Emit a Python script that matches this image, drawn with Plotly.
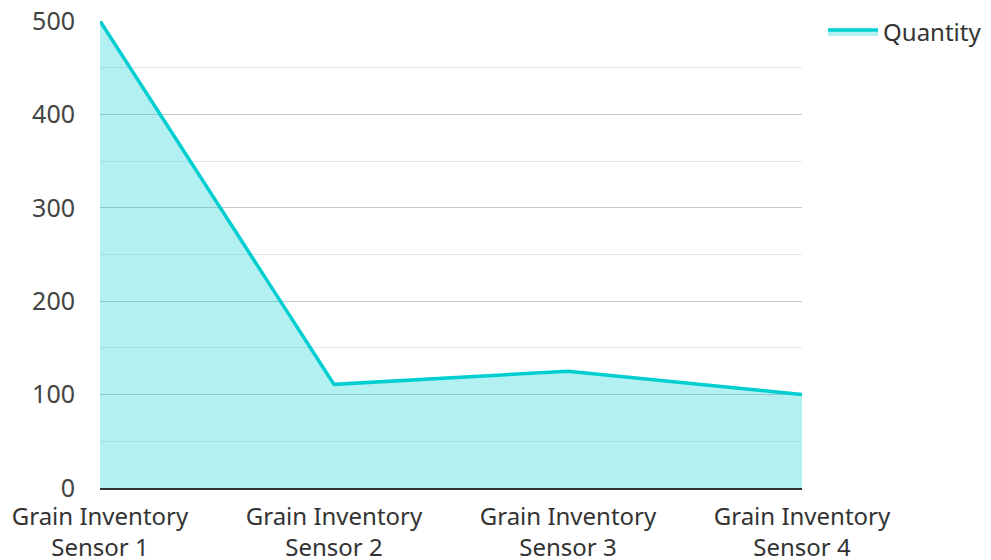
import plotly.graph_objects as go

categories = ["Grain Inventory<br>Sensor 1", "Grain Inventory<br>Sensor 2",
              "Grain Inventory<br>Sensor 3", "Grain Inventory<br>Sensor 4"]
quantity = [500, 111, 125, 100]
y_ticks = [0, 100, 200, 300, 400, 500]

fig = go.Figure()
fig.add_trace(go.Scatter(
    x=categories, y=quantity, name="Quantity", mode="lines",
    line=dict(color="#00CED1", width=3.5),
    fill="tozeroy", fillcolor="rgba(0,206,209,0.3)",
))

# page body has an 8px default margin; figure is sized to fit the 991x560 window
fig.update_layout(
    width=983, height=552,
    margin=dict(l=92, r=189, t=13, b=72, autoexpand=False),
    paper_bgcolor="white", plot_bgcolor="white",
    font=dict(family="Noto Sans", size=24, color="#444444"),
    showlegend=True,
    legend=dict(x=1.03, y=1.024, xanchor="left", yanchor="top", itemwidth=50,
                font=dict(size=24, color="#333333"), bgcolor="rgba(0,0,0,0)"),
    xaxis=dict(range=[0, 3], showgrid=False, zeroline=False, showline=True, automargin=False,
               linecolor="#333333", linewidth=2, ticks="", ticklabelstandoff=6,
               ticklabeloverflow="allow", tickfont=dict(size=24, color="#333333")),
    yaxis=dict(range=[0, 500], tickvals=y_ticks, showgrid=True, gridcolor="#c8c8c8",
               gridwidth=1, zeroline=False, showline=False, ticks="", automargin=False,
               ticklabelstandoff=24, ticklabeloverflow="allow",
               tickfont=dict(size=25, color="#444444"),
               minor=dict(dtick=50, showgrid=True, gridcolor="#e6e6e6", gridwidth=1)),
)

fig.write_html("out.html")
